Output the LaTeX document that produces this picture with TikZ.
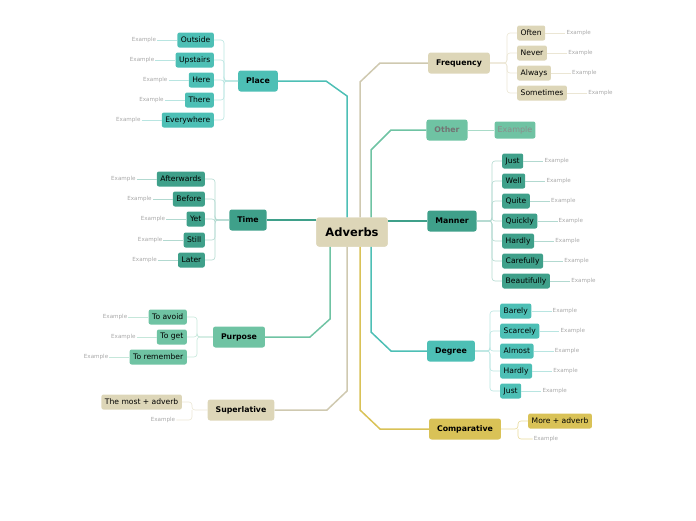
\documentclass[tikz,border=0pt]{standalone}
\usepackage{fontspec}
\setmainfont{DejaVu Sans}
\definecolor{cA}{HTML}{4DBFB5}
\definecolor{cB}{HTML}{3FA08A}
\definecolor{cC}{HTML}{6FC3A3}
\definecolor{cD}{HTML}{DDD6B8}
\definecolor{cE}{HTML}{D9C257}
\definecolor{ex}{HTML}{A8A8A8}
\begin{document}
\begin{tikzpicture}[x=1pt,y=-1pt,
 box/.style={rounded corners=2pt,inner sep=0pt,minimum height=15pt,font=\fontsize{7.6}{8}\selectfont,text=black},
 leaf/.style={box,inner xsep=3.5pt,fill=#1},
 main/.style={rounded corners=2.5pt,minimum height=21pt,inner xsep=8pt,font=\bfseries\fontsize{7.8}{9}\selectfont,fill=#1},
 rootst/.style={main=cD,minimum height=29pt,inner xsep=9pt,font=\bfseries\fontsize{11.5}{12}\selectfont},
 exn/.style={inner sep=1pt,font=\fontsize{5.6}{6}\selectfont,text=ex},
 br/.style={draw=#1,line width=1.5pt},
 ln/.style={draw=#1,line width=0.6pt,rounded corners=3pt}]
\useasboundingbox (0,0) rectangle (696,520);
\node[rootst] (root) at (352,232) {Adverbs};
% main nodes
\node[main=cA] (place) at (258,81) {Place};
\node[main=cB] (time) at (248,220) {Time};
\node[main=cC] (purp) at (239,337) {Purpose};
\node[main=cD] (sup) at (241,410) {Superlative};
\node[main=cD] (freq) at (459,63) {Frequency};
\node[main=cC,text=black!55] (oth) at (447,130) {Other};
\node[main=cB] (man) at (452,221) {Manner};
\node[main=cA] (deg) at (451,351) {Degree};
\node[main=cE] (comp) at (465,429) {Comparative};
% branches
\draw[br=cA] ([xshift=-5pt]root.north) -- (347,96) -- (326,81) -- (place.east);
\draw[br=cB] (root.west |- time) -- (time.east);
\draw[br=cC] ([xshift=-22pt]root.south) -- (330,319) -- (310,337) -- (purp.east);
\draw[br=cD!85!gray] ([xshift=-5pt]root.south) -- (347,391) -- (327,410) -- (sup.east);
\draw[br=cD!85!gray] ([xshift=8pt]root.north) -- (360,82) -- (380,63) -- (freq.west);
\draw[br=cC] ([xshift=19pt]root.north) -- (371,150) -- (391,130) -- (oth.west);
\draw[br=cB] (root.east |- man) -- (man.west);
\draw[br=cA] ([xshift=19pt]root.south) -- (371,332) -- (391,351) -- (deg.west);
\draw[br=cE] ([xshift=8pt]root.south) -- (360,410) -- (380,429) -- (comp.west);
\node[rootst] at (352,232) {Adverbs};
% left leaves
\foreach \t/\y/\n in {Outside/40/p1,Upstairs/60/p2,Here/80/p3,There/100/p4,Everywhere/120/p5}{
 \node[leaf=cA,anchor=east] (\n) at (214,\y) {\t};
 \node[exn,anchor=east] (\n e) at ([xshift=-20pt]\n.west) {Example};
 \draw[ln=cA!40] (\n e) -- (\n);
 \draw[ln=cA!40] (place.west) -- (224,81) |- (\n.east);}
\foreach \t/\y/\n in {Afterwards/179/t1,Before/199/t2,Yet/219/t3,Still/240/t4,Later/260/t5}{
 \node[leaf=cB,anchor=east] (\n) at (205,\y) {\t};
 \node[exn,anchor=east] (\n e) at ([xshift=-20pt]\n.west) {Example};
 \draw[ln=cB!40] (\n e) -- (\n);
 \draw[ln=cB!40] (time.west) -- (215,220) |- (\n.east);}
\foreach \t/\y/\n in {To avoid/317/u1,To get/337/u2,To remember/357/u3}{
 \node[leaf=cC,anchor=east] (\n) at (187,\y) {\t};
 \node[exn,anchor=east] (\n e) at ([xshift=-20pt]\n.west) {Example};
 \draw[ln=cC!40] (\n e) -- (\n);
 \draw[ln=cC!40] (purp.west) -- (197,337) |- (\n.east);}
\node[leaf=cD,anchor=east] (s1) at (182,402) {The most + adverb};
\node[exn] (s1e) at (163,420) {Example};
\draw[ln=cD!60] (sup.west) -- (192,410) |- (s1.east);
\draw[ln=cD!60] (192,410) |- (s1e.east);
% right leaves
\foreach \t/\y/\n in {Often/33/f1,Never/53/f2,Always/73/f3,Sometimes/93/f4}{
 \node[leaf=cD,anchor=west] (\n) at (517,\y) {\t};
 \node[exn,anchor=west] (\n e) at ([xshift=20pt]\n.east) {Example};
 \draw[ln=cD!60] (\n) -- (\n e);
 \draw[ln=cD!60] (freq.east) -- (507,63) |- (\n.west);}
\node[leaf=cC,inner xsep=3pt,font=\fontsize{8}{9}\selectfont,text=black!45,minimum height=17pt] (o1) at (515,130) {Example};
\draw[ln=cC!60] (oth) -- (o1);
\foreach \t/\y/\n in {Just/161/m1,Well/181/m2,Quite/201/m3,Quickly/221/m4,Hardly/241/m5,Carefully/261/m6,Beautifully/281/m7}{
 \node[leaf=cB,anchor=west] (\n) at (502,\y) {\t};
 \node[exn,anchor=west] (\n e) at ([xshift=20pt]\n.east) {Example};
 \draw[ln=cB!40] (\n) -- (\n e);
 \draw[ln=cB!40] (man.east) -- (492,221) |- (\n.west);}
\foreach \t/\y/\n in {Barely/311/d1,Scarcely/331/d2,Almost/351/d3,Hardly/371/d4,Just/391/d5}{
 \node[leaf=cA,anchor=west] (\n) at (500,\y) {\t};
 \node[exn,anchor=west] (\n e) at ([xshift=20pt]\n.east) {Example};
 \draw[ln=cA!40] (\n) -- (\n e);
 \draw[ln=cA!40] (deg.east) -- (490,351) |- (\n.west);}
\node[leaf=cE,anchor=west] (c1) at (528,421) {More + adverb};
\node[exn] (c1e) at (546,439) {Example};
\draw[ln=cE!60] (comp.east) -- (518,429) |- (c1.west);
\draw[ln=cE!60] (518,429) |- (c1e.west);
\end{tikzpicture}
\end{document}
